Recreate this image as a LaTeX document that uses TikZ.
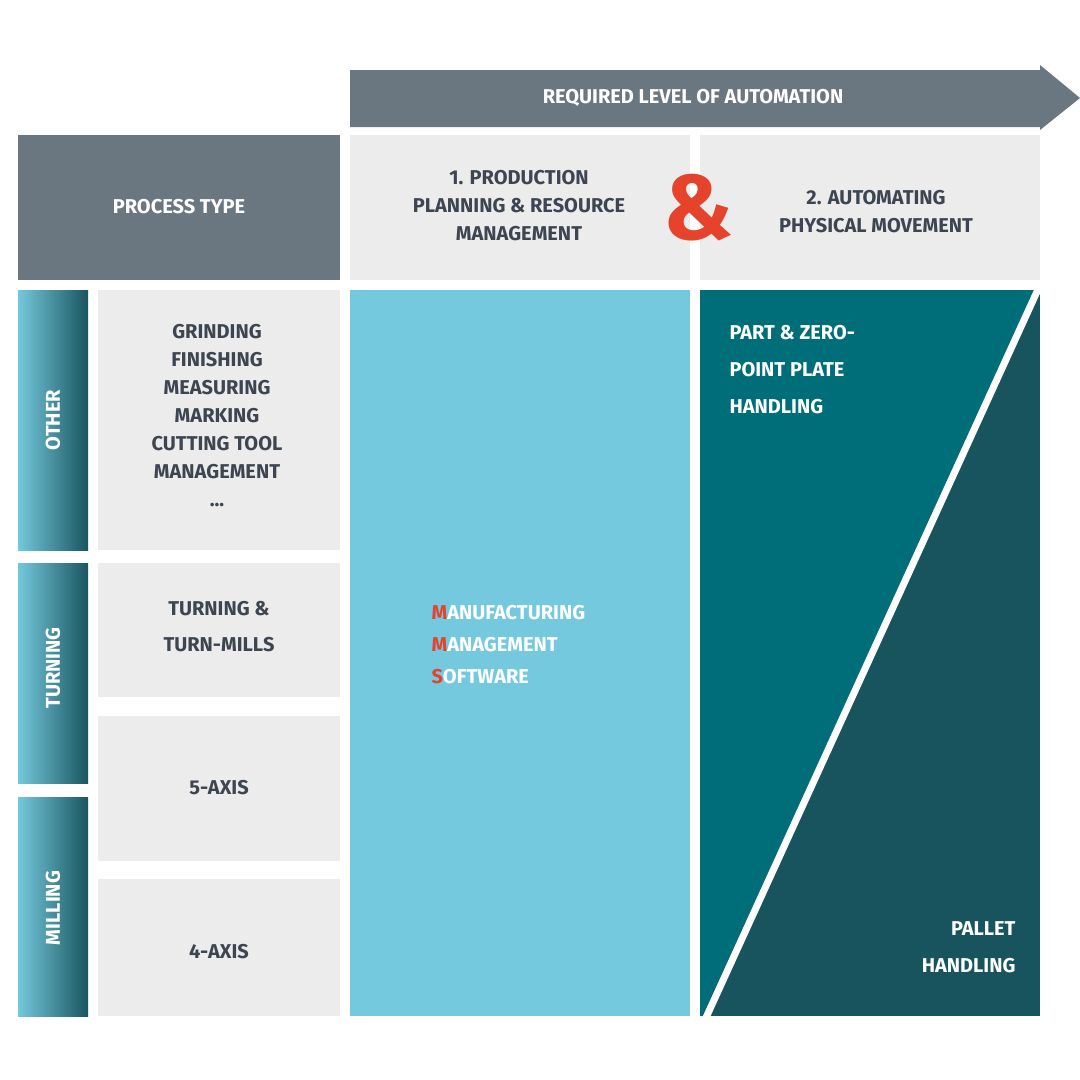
\documentclass[tikz,border=0pt]{standalone}
\usepackage{fontspec}
\setmainfont{Fira Sans}
\definecolor{slate}{HTML}{6B7780}
\definecolor{lgray}{HTML}{ECECEC}
\definecolor{txt}{HTML}{3D4550}
\definecolor{sky}{HTML}{74C9DF}
\definecolor{teal}{HTML}{006E78}
\definecolor{dteal}{HTML}{17545E}
\definecolor{red}{HTML}{E5432B}
\definecolor{gl}{HTML}{74C8DC}
\definecolor{gr}{HTML}{1A5560}
\begin{document}
\begin{tikzpicture}[x=1pt,y=-1pt,
  lbl/.style={font=\fontsize{20}{28}\selectfont\bfseries,align=center,text=txt},
  wlbl/.style={font=\fontsize{20}{28}\selectfont\bfseries,text=white},
  bar/.style={left color=gl,right color=gr,draw=none},
  vlbl/.style={font=\fontsize{20}{24}\selectfont\bfseries,text=white,rotate=90}]
\useasboundingbox (0,0) rectangle (1080,1080);
\fill[white] (0,0) rectangle (1080,1080);
% arrow
\fill[slate] (350,70) -- (1040,70) -- (1040,65) -- (1080,98) -- (1040,130) -- (1040,127) -- (350,127) -- cycle;
\node[wlbl] (arr) at (693,98) {REQUIRED LEVEL OF AUTOMATION};
% headers
\fill[slate] (18,135) rectangle (340,280);
\node[wlbl] (pt) at (179,207) {PROCESS TYPE};
\fill[lgray] (350,135) rectangle (690,280);
\fill[lgray] (700,135) rectangle (1040,280);
\node[lbl] (h1) at (519,206) {1. PRODUCTION\\PLANNING \& RESOURCE\\MANAGEMENT};
\node[lbl] (h2) at (876,212) {2. AUTOMATING\\PHYSICAL MOVEMENT};
\node[font=\fontsize{92}{92}\selectfont\bfseries,text=red] (amp) at (698,208) {\&};
% side bars
\fill[bar] (18,290) rectangle (88,550);
\fill[bar] (18,563) rectangle (88,783);
\fill[bar] (18,797) rectangle (88,1016);
\node[vlbl] (o) at (53,420) {OTHER};
\node[vlbl] (t) at (53,668) {TURNING};
\node[vlbl] (m) at (53,908) {MILLING};
% gray boxes
\fill[lgray] (98,290) rectangle (340,550);
\fill[lgray] (98,563) rectangle (340,697);
\fill[lgray] (98,716) rectangle (340,861);
\fill[lgray] (98,879) rectangle (340,1016);
\node[lbl] (g1) at (217,416) {GRINDING\\FINISHING\\MEASURING\\MARKING\\CUTTING TOOL\\MANAGEMENT\\...};
\node[lbl,font=\fontsize{20}{36}\selectfont\bfseries] (g2) at (219,627) {TURNING \&\\TURN-MILLS};
\node[lbl] (g3) at (219,788) {5-AXIS};
\node[lbl] (g4) at (219,952) {4-AXIS};
% MMS
\fill[sky] (350,290) rectangle (690,1016);
\node[wlbl,align=left,anchor=west,font=\fontsize{20}{32}\selectfont\bfseries] (mms) at (428,645)
 {\textcolor{red}{M}ANUFACTURING\\\textcolor{red}{M}ANAGEMENT\\\textcolor{red}{S}OFTWARE};
% right
\fill[dteal] (700,290) rectangle (1040,1016);
\fill[teal] (700,290) -- (1036,290) -- (702,1016) -- (700,1016) -- cycle;
\draw[white,line width=7pt] (1040,285) -- (704,1022);
\fill[white] (1040,280) rectangle (1045,1020);
\node[wlbl,align=left,anchor=north west,font=\fontsize{20}{37}\selectfont\bfseries] (pz) at (726,322) {PART \& ZERO-\\POINT PLATE\\HANDLING};
\node[wlbl,align=right,anchor=south east,font=\fontsize{20}{37}\selectfont\bfseries] (ph) at (1019,976) {PALLET\\HANDLING};
\end{tikzpicture}
\end{document}
